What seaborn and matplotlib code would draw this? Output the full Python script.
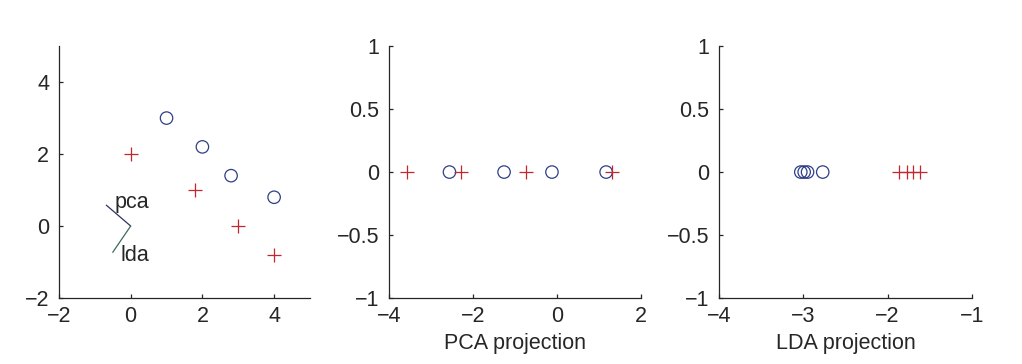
import matplotlib
matplotlib.use("Agg")
import matplotlib.pyplot as plt
import seaborn as sns
import pandas as pd

# raw 2d data
circle_x = [1.0, 2.0, 2.8, 4.0]
circle_y = [3.0, 2.2, 1.4, 0.8]
cross_x = [0.0, 1.8, 3.0, 4.0]
cross_y = [2.0, 1.0, 0.0, -0.8]

# direction lines drawn from the origin
pca_dir = [-0.68, 0.58]
lda_dir = [-0.50, -0.73]

# 1d projections
pca_circles = [-2.56, -1.26, -0.12, 1.17]
pca_crosses = [-3.57, -2.29, -0.73, 1.31]
lda_circles = [-3.03, -2.99, -2.95, -2.77]
lda_crosses = [-1.87, -1.77, -1.70, -1.62]

BLUE = "#2e3f86"
RED = "#c1272d"
FS = 15.5

sns.set_style("ticks")
plt.rcParams["font.family"] = ["Liberation Sans", "DejaVu Sans"]
plt.rcParams["font.size"] = FS
plt.rcParams["xtick.direction"] = "in"
plt.rcParams["ytick.direction"] = "in"
plt.rcParams["xtick.major.size"] = 3
plt.rcParams["ytick.major.size"] = 3
plt.rcParams["axes.linewidth"] = 0.9


def draw_points(ax, cx, cy, px, py):
    sns.scatterplot(x=cx, y=cy, ax=ax, marker="o", s=80, facecolors="none",
                    edgecolors=BLUE, linewidth=0.9, zorder=3)
    sns.scatterplot(x=px, y=py, ax=ax, marker="+", s=105, color=RED,
                    linewidth=0.9, zorder=3)


fig = plt.figure(figsize=(10.22, 3.64), dpi=100)
ax1 = fig.add_axes([0.0577, 0.1813, 0.2456, 0.692])
ax2 = fig.add_axes([0.3806, 0.1813, 0.2466, 0.692])
ax3 = fig.add_axes([0.7035, 0.1813, 0.2476, 0.692])

# left panel: data with pca / lda directions
draw_points(ax1, circle_x, circle_y, cross_x, cross_y)
lines = pd.DataFrame({"x": [0, pca_dir[0], 0, lda_dir[0]],
                      "y": [0, pca_dir[1], 0, lda_dir[1]],
                      "which": ["pca", "pca", "lda", "lda"]})
sns.lineplot(data=lines, x="x", y="y", hue="which", sort=False,
             palette={"pca": "#2b3560", "lda": "#3d6b55"}, linewidth=0.9,
             legend=False, ax=ax1)
ax1.text(-0.45, 0.65, "pca", fontsize=FS, va="center", ha="left")
ax1.text(-0.28, -0.83, "lda", fontsize=FS, va="center", ha="left")
ax1.set_xlim(-2, 5)
ax1.set_ylim(-2, 5)
ax1.set_xticks([-2, 0, 2, 4])
ax1.set_yticks([-2, 0, 2, 4])

# middle panel: pca projection
zeros = [0, 0, 0, 0]
draw_points(ax2, pca_circles, zeros, pca_crosses, zeros)
ax2.set_xlim(-4, 2)
ax2.set_ylim(-1, 1)
ax2.set_xticks([-4, -2, 0, 2])
ax2.set_yticks([-1, -0.5, 0, 0.5, 1])
ax2.set_yticklabels(["\u22121", "\u22120.5", "0", "0.5", "1"])
ax2.set_xlabel("PCA projection")

# right panel: lda projection
draw_points(ax3, lda_circles, zeros, lda_crosses, zeros)
ax3.set_xlim(-4, -1)
ax3.set_ylim(-1, 1)
ax3.set_xticks([-4, -3, -2, -1])
ax3.set_yticks([-1, -0.5, 0, 0.5, 1])
ax3.set_yticklabels(["\u22121", "\u22120.5", "0", "0.5", "1"])
ax3.set_xlabel("LDA projection")

for ax in (ax1, ax2, ax3):
    sns.despine(ax=ax)
    ax.set_ylabel("")
    ax.tick_params(labelsize=FS, width=0.9)
    ax.tick_params(axis="y", pad=7)
    ax.tick_params(axis="x", pad=6)
    ax.xaxis.labelpad = 4
    if ax is ax1:
        ax.set_xlabel("")

fig.savefig("out.png", dpi=100)
